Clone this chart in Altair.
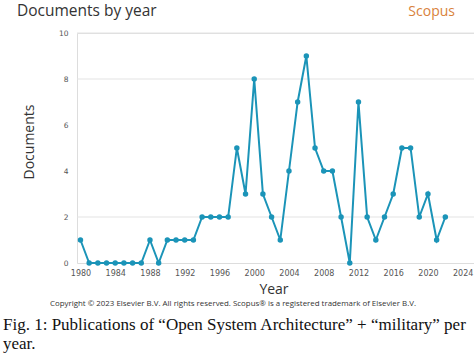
import altair as alt
import pandas as pd

years = list(range(1980, 2023))
docs = [1, 0, 0, 0, 0, 0, 0, 0, 1, 0,
        1, 1, 1, 1, 2, 2, 2, 2, 5, 3,
        8, 3, 2, 1, 4, 7, 9, 5, 4, 4,
        2, 0, 7, 2, 1, 2, 3, 5, 5, 2,
        3, 1, 2]
x_ticks = list(range(1980, 2025, 4))
y_ticks = [0, 2, 4, 6, 8, 10]
grid_values = [2, 8, 10]

df = pd.DataFrame({"Year": years, "Documents": docs})
grid_df = pd.DataFrame({"Documents": grid_values})

LINE = "#1b94b8"

xscale = alt.Scale(domain=[1979.6, 2025.3], nice=False, zero=False)
yscale = alt.Scale(domain=[0, 10], nice=False)

yaxis = alt.Axis(values=y_ticks, title=None, domain=False, ticks=False,
                 grid=False, labelFontSize=7.5, labelColor="#555",
                 labelFont="DejaVu Sans", labelPadding=9, labelOverlap=False)
xaxis = alt.Axis(values=x_ticks, format="d", title=None, domain=False,
                 ticks=False, grid=False, labelFontSize=8,
                 labelColor="#555", labelFont="DejaVu Sans",
                 labelPadding=6, labelOverlap=False)

grid = alt.Chart(grid_df).mark_rule(color="#e3e3e3", strokeWidth=1).encode(
    y=alt.Y("Documents:Q", scale=yscale, axis=yaxis)
)

line = alt.Chart(df).mark_line(color=LINE, strokeWidth=2, clip=False).encode(
    x=alt.X("Year:Q", scale=xscale, axis=xaxis),
    y=alt.Y("Documents:Q", scale=yscale, axis=yaxis),
)
points = alt.Chart(df).mark_circle(color=LINE, size=30, opacity=1, clip=False).encode(
    x=alt.X("Year:Q", scale=xscale, axis=xaxis),
    y=alt.Y("Documents:Q", scale=yscale, axis=yaxis),
)

def txt(text, x, y, size, color="#333", font="Open Sans", align="left", angle=0, baseline="alphabetic"):
    kw = dict(text=text, fontSize=size, color=color, font=font, align=align,
              baseline=baseline)
    if angle:
        kw["angle"] = angle
    return alt.Chart(pd.DataFrame({"a": [0]})).mark_text(**kw).encode(
        x=alt.value(x), y=alt.value(y))

texts = [
    txt("Documents by year", -60, -17, 15.5),
    txt("Scopus", 378, -17, 14, color="#d9823b", align="right"),
    txt("Documents", -47, 109, 14, angle=270, align="center", baseline="middle"),
    txt("Year", 197, 261, 14, align="center"),
    txt("Copyright \u00a9 2023 Elsevier B.V. All rights reserved. Scopus\u00ae is a registered trademark of Elsevier B.V.",
        156, 273, 7.9, align="center"),
    txt("Fig. 1: Publications of \u201cOpen System Architecture\u201d + \u201cmilitary\u201d per",
        -74, 297, 17, color="#111", font="Liberation Serif"),
    txt("year.", -74, 316, 17, color="#111", font="Liberation Serif"),
]

chart = alt.layer(grid, line, points, *texts).properties(
    width=397, height=230,
    autosize=alt.AutoSizeParams(type="none"),
    padding={"left": 77, "top": 33, "right": 0, "bottom": 92},
).configure_view(stroke=None).configure(background="white")

chart.save("out.html", embed_options={"renderer": "svg", "actions": False})
